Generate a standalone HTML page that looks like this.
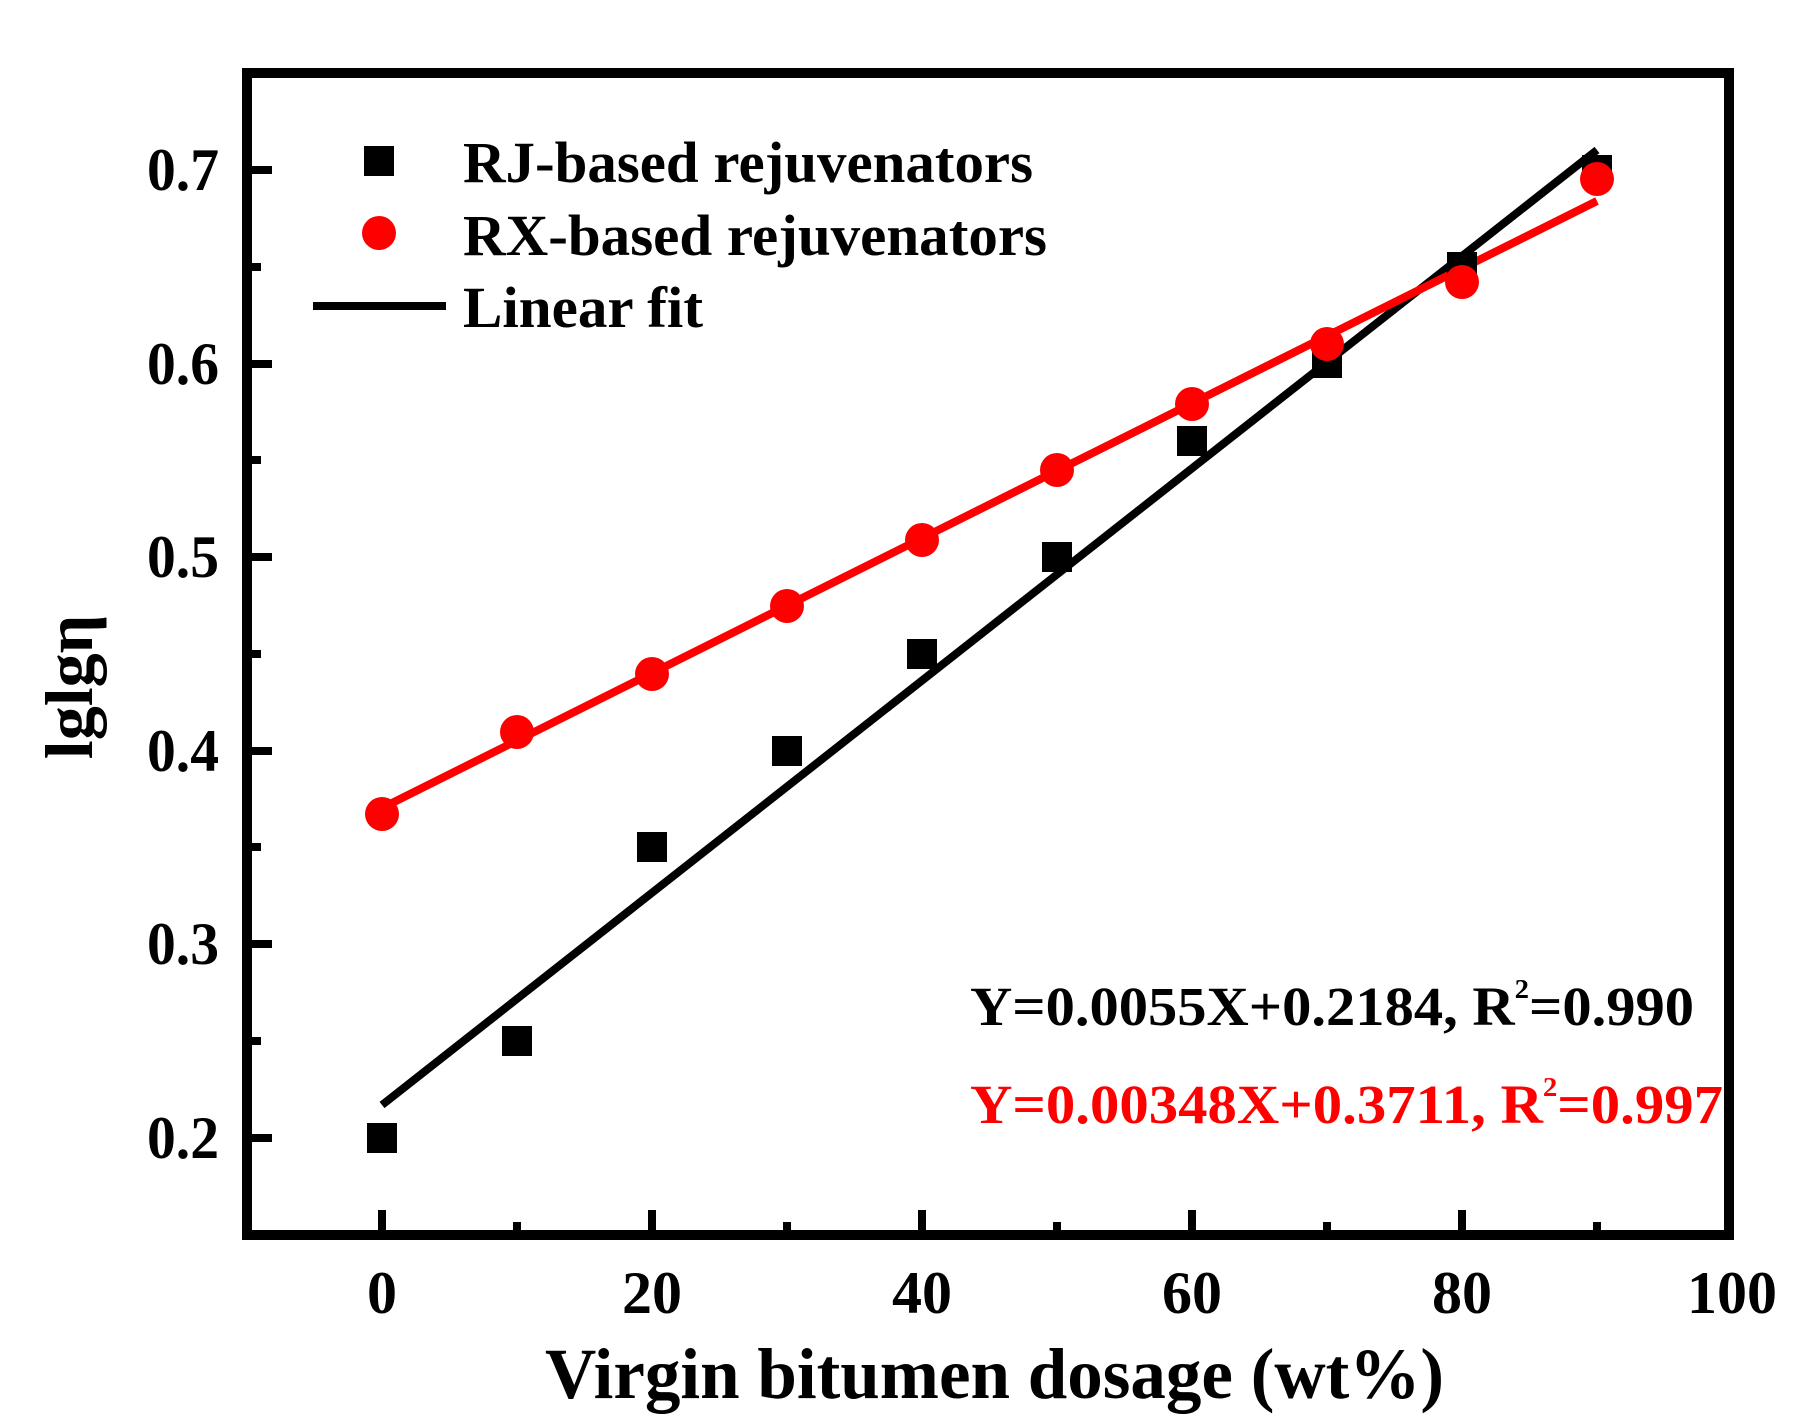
<!DOCTYPE html>
<html><head><meta charset="utf-8"><style>html,body{margin:0;padding:0;background:#fff}svg{display:block}</style></head>
<body>
<svg width="1802" height="1423" viewBox="0 0 1802 1423" xmlns="http://www.w3.org/2000/svg" font-family="'Liberation Serif', serif" font-weight="bold">
<rect width="1802" height="1423" fill="#fff"/>
<g stroke="#000" stroke-width="8">
  <line x1="247" y1="170" x2="272" y2="170"/>
  <line x1="247" y1="364" x2="272" y2="364"/>
  <line x1="247" y1="557" x2="272" y2="557"/>
  <line x1="247" y1="751" x2="272" y2="751"/>
  <line x1="247" y1="944" x2="272" y2="944"/>
  <line x1="247" y1="1138" x2="272" y2="1138"/>
  <line x1="247" y1="267" x2="261" y2="267"/>
  <line x1="247" y1="460" x2="261" y2="460"/>
  <line x1="247" y1="654" x2="261" y2="654"/>
  <line x1="247" y1="847" x2="261" y2="847"/>
  <line x1="247" y1="1041" x2="261" y2="1041"/>
  <line x1="382" y1="1235" x2="382" y2="1210"/>
  <line x1="652" y1="1235" x2="652" y2="1210"/>
  <line x1="922" y1="1235" x2="922" y2="1210"/>
  <line x1="1192" y1="1235" x2="1192" y2="1210"/>
  <line x1="1462" y1="1235" x2="1462" y2="1210"/>
  <line x1="517" y1="1235" x2="517" y2="1222"/>
  <line x1="787" y1="1235" x2="787" y2="1222"/>
  <line x1="1057" y1="1235" x2="1057" y2="1222"/>
  <line x1="1327" y1="1235" x2="1327" y2="1222"/>
  <line x1="1597" y1="1235" x2="1597" y2="1222"/>
</g>
<rect x="247" y="73" width="1482" height="1162" fill="none" stroke="#000" stroke-width="10"/>
<line x1="382" y1="1105" x2="1597" y2="150" stroke="#000" stroke-width="8"/>
<line x1="382" y1="808" x2="1597" y2="201" stroke="#f00" stroke-width="8"/>
<g fill="#000">
  <rect x="367" y="1123" width="30" height="30"/>
  <rect x="502" y="1026" width="30" height="30"/>
  <rect x="637" y="832" width="30" height="30"/>
  <rect x="772" y="736" width="30" height="30"/>
  <rect x="907" y="639" width="30" height="30"/>
  <rect x="1042" y="542" width="30" height="30"/>
  <rect x="1177" y="426" width="30" height="30"/>
  <rect x="1312" y="348" width="30" height="30"/>
  <rect x="1447" y="252" width="30" height="30"/>
  <rect x="1582" y="155" width="30" height="30"/>
</g>
<g fill="#f00">
  <circle cx="382" cy="814" r="17"/>
  <circle cx="517" cy="732" r="17"/>
  <circle cx="652" cy="674" r="17"/>
  <circle cx="787" cy="606" r="17"/>
  <circle cx="922" cy="540" r="17"/>
  <circle cx="1057" cy="470" r="17"/>
  <circle cx="1192" cy="404" r="17"/>
  <circle cx="1327" cy="344" r="17"/>
  <circle cx="1462" cy="282" r="17"/>
  <circle cx="1597" cy="179" r="17"/>
</g>
<rect x="364" y="146" width="30" height="30" fill="#000"/>
<circle cx="379" cy="233" r="17" fill="#f00"/>
<line x1="313" y1="306" x2="446" y2="306" stroke="#000" stroke-width="8"/>
<g font-size="58" fill="#000">
  <text x="463" y="182" textLength="570" lengthAdjust="spacingAndGlyphs">RJ-based rejuvenators</text>
  <text x="463" y="255" textLength="584" lengthAdjust="spacingAndGlyphs">RX-based rejuvenators</text>
  <text x="463" y="327" textLength="240" lengthAdjust="spacingAndGlyphs">Linear fit</text>
</g>
<g font-size="60" fill="#000">
  <text x="147" y="190" textLength="72" lengthAdjust="spacingAndGlyphs">0.7</text>
  <text x="147" y="384" textLength="72" lengthAdjust="spacingAndGlyphs">0.6</text>
  <text x="147" y="577" textLength="72" lengthAdjust="spacingAndGlyphs">0.5</text>
  <text x="147" y="771" textLength="72" lengthAdjust="spacingAndGlyphs">0.4</text>
  <text x="147" y="964" textLength="72" lengthAdjust="spacingAndGlyphs">0.3</text>
  <text x="147" y="1158" textLength="72" lengthAdjust="spacingAndGlyphs">0.2</text>
</g>
<g font-size="60" text-anchor="middle" fill="#000">
  <text x="382" y="1313">0</text>
  <text x="652" y="1313">20</text>
  <text x="922" y="1313">40</text>
  <text x="1192" y="1313">60</text>
  <text x="1462" y="1313">80</text>
  <text x="1732" y="1313">100</text>
</g>
<text x="545" y="1398" font-size="72" textLength="899" lengthAdjust="spacingAndGlyphs">Virgin bitumen dosage (wt%)</text>
<text transform="translate(92,687) rotate(-90)" font-size="68" text-anchor="middle">lglgη</text>
<text x="970" y="1025" font-size="55" fill="#000" textLength="724" lengthAdjust="spacingAndGlyphs">Y=0.0055X+0.2184, R<tspan font-size="27" dy="-27">2</tspan><tspan dy="27">=0.990</tspan></text>
<text x="970" y="1123" font-size="55" fill="#f00" textLength="753" lengthAdjust="spacingAndGlyphs">Y=0.00348X+0.3711, R<tspan font-size="27" dy="-27">2</tspan><tspan dy="27">=0.997</tspan></text>
</svg>
</body></html>
